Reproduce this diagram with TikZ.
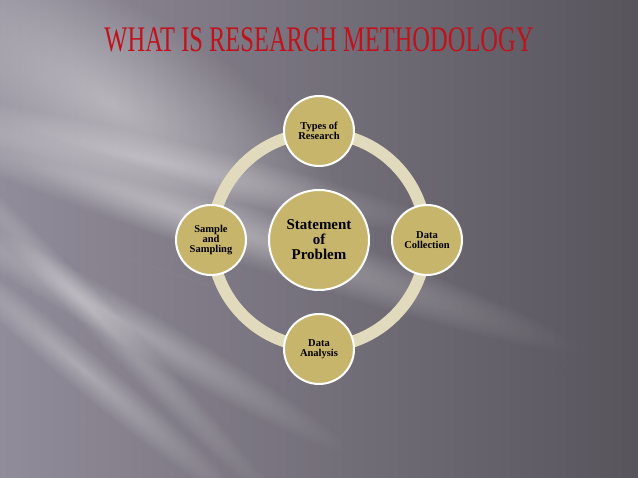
\documentclass[tikz,border=0pt]{standalone}
\usepackage{fontspec}
\setmainfont{Liberation Serif}
\usepackage{xcolor}
\definecolor{bglight}{HTML}{918C99}
\definecolor{bgdark}{HTML}{58545C}
\definecolor{titlered}{HTML}{C0121C}
\definecolor{gold}{HTML}{C8B56C}
\definecolor{ringbeige}{HTML}{E2DABC}
\usepackage{tikz}
\usetikzlibrary{positioning}
\usetikzlibrary{fadings}
\tikzfading[name=glow, inner color=transparent!0, outer color=transparent!100]
\tikzset{
  stage/.style={circle, draw=white, line width=2pt, fill=gold, minimum size=70pt, inner sep=0pt,
    align=center, font=\fontsize{10.5}{10}\selectfont\bfseries},
  hub/.style={circle, draw=white, line width=2pt, fill=gold, minimum size=100pt, inner sep=0pt,
    align=center, font=\fontsize{15}{15}\selectfont\bfseries},
  ring/.style={draw=ringbeige, line width=12pt},
  streak/.style={fill=white, path fading=glow, fit fading=false}
}

\begin{document}
\begin{tikzpicture}[x=1pt,y=-1pt]
    \useasboundingbox (0,0) rectangle (638,478);
    \fill [left color=bglight, right color=bgdark] (0,0) rectangle (638,478);

    % light streaks: start height, angle, width, length, opacity
    \foreach \y/\a/\w/\l/\o in {40/30/200/520/0.4, 125/13/50/620/0.3, 150/19/60/820/0.35,
                               250/30/45/540/0.3, 300/40/40/420/0.3, 216/46/35/540/0.25}
    {
        \pgfmathsetmacro{\cx}{(\l/4)*cos(\a)}
        \pgfmathsetmacro{\cy}{\y+(\l/4)*sin(\a)}
        \fill [streak, opacity=\o,
               fading transform={shift={(\cx,\cy)}, rotate=-\a, xscale=\l/50, yscale=\w/50}]
            (0,0) rectangle (638,478);
    }

    \node [anchor=base, text=titlered] (title) at (319,52)
        {\scalebox{0.68}[1]{\fontsize{36}{36}\selectfont WHAT IS RESEARCH METHODOLOGY}};

    \coordinate (mid) at (319,240);
    \draw [ring] (mid) circle (107pt);

    \node [hub] (problem) at (mid) {Statement\\of\\Problem};
    \node [stage, above=22pt of problem] (types) {Types of\\Research};
    \node [stage, right=21pt of problem] (collect) {Data\\Collection};
    \node [stage, below=22pt of problem] (analysis) {Data\\Analysis};
    \node [stage, left=21pt of problem] (sample) {Sample\\and\\Sampling};
\end{tikzpicture}
\end{document}
